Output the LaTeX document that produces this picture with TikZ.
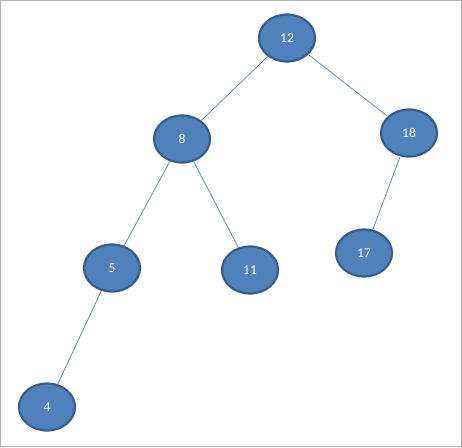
\documentclass[tikz,border=0pt]{standalone}
\usepackage{fontspec}
\setmainfont{Carlito}
\usepackage{tikz}
\usetikzlibrary{shapes.geometric}

\definecolor{nodefill}{HTML}{4F81BD}
\definecolor{nodeline}{HTML}{385D8A}
\definecolor{edgeline}{HTML}{5A7FB0}

\begin{document}
\begin{tikzpicture}[
    x=1pt, y=-1pt,
    treenode/.style={ellipse, draw=nodeline, fill=nodefill, line width=2.2pt,
        minimum width=56pt, minimum height=47pt, inner sep=0pt,
        text=white, font=\fontsize{13.5}{16}\selectfont},
    treeedge/.style={draw=edgeline, line width=0.7pt}
]
\draw[gray!60, line width=1pt] (0.5,0.5) rectangle (461.5,446.5);
\node[treenode](n12) at (287,38){12};
\node[treenode](n8) at (182,139){8};
\node[treenode](n18) at (409,133){18};
\node[treenode](n5) at (112,268){5};
\node[treenode](n11) at (250,270){11};
\node[treenode](n17) at (364,253){17};
\node[treenode](n4) at (47,407){4};
\draw[treeedge] (n12) -- (n8);
\draw[treeedge] (n12) -- (n18);
\draw[treeedge] (n8) -- (n5);
\draw[treeedge] (n8) -- (n11);
\draw[treeedge] (n18) -- (n17);
\draw[treeedge] (n5) -- (n4);
\end{tikzpicture}
\end{document}
